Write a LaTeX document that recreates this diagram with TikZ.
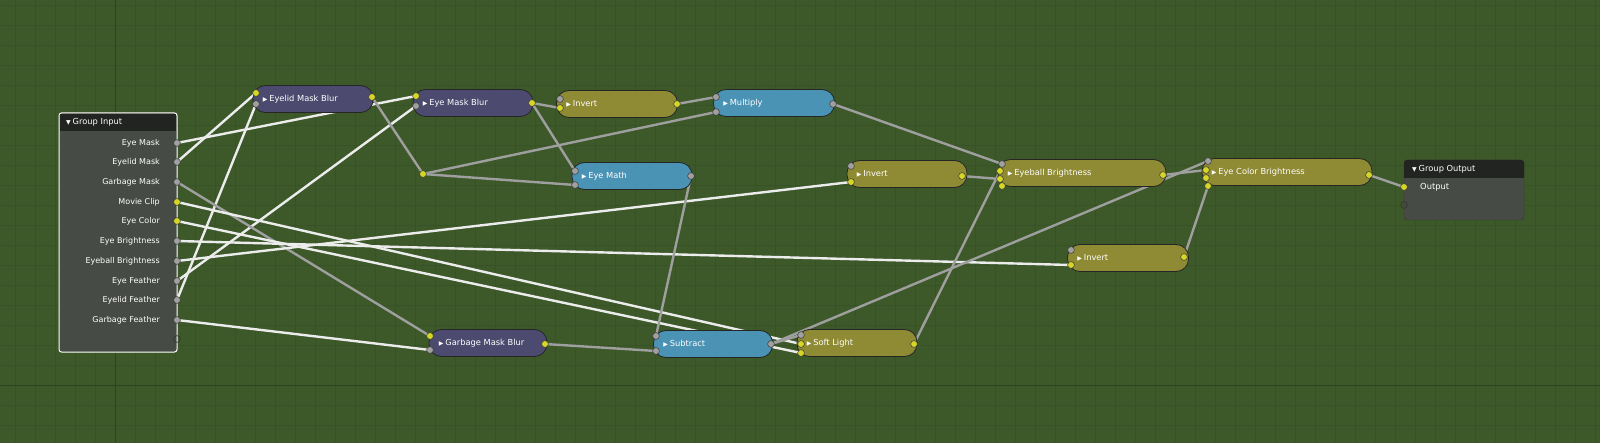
\documentclass[tikz,border=0pt]{standalone}
\usepackage{fontspec}
\setmainfont{DejaVu Sans}
\definecolor{bg}{RGB}{61,89,42}
\definecolor{gridc}{RGB}{56,82,39}
\definecolor{gridm}{RGB}{45,66,30}
\definecolor{purp}{RGB}{76,74,110}
\definecolor{oliv}{RGB}{143,138,52}
\definecolor{blu}{RGB}{74,147,181}
\definecolor{gbody}{RGB}{71,75,69}
\definecolor{ghead}{RGB}{34,36,33}
\definecolor{sockY}{RGB}{214,214,40}
\definecolor{sockG}{RGB}{160,160,160}
\begin{document}
\begin{tikzpicture}[x=1pt,y=-1pt,
  pill/.style={draw=black!85,line width=0.8pt,rounded corners=12.5pt,minimum height=27pt,inner sep=0pt},
  lbl/.style={anchor=west,text=white!92,font=\fontsize{8.3}{9}\selectfont,inner sep=0pt},
  slbl/.style={anchor=east,text=white!92,font=\fontsize{8}{9}\selectfont,inner sep=0pt},
  lnk/.style={line width=2.4pt,draw=gray!75!white},
  wlnk/.style={line width=2.4pt,draw=white!85!gray},
  ys/.style={fill=sockY,draw=black!80,line width=0.5pt},
  gs/.style={fill=sockG,draw=black!80,line width=0.5pt}]
\useasboundingbox (0,0) rectangle (1600,443);
\fill[bg] (0,0) rectangle (1600,443);
\foreach \i in {0,20,...,1580} \draw[line width=0.4pt,gridc] (\i+15,0) -- (\i+15,443);
\foreach \j in {5,25,...,443} \draw[line width=0.4pt,gridc] (0,\j) -- (1600,\j);
\draw[line width=0.9pt,gridm] (115,0) -- (115,443);
\draw[line width=0.9pt,gridm] (0,385) -- (1600,385);

% socket coordinates
\foreach \n/\y in {gEM/143,gELM/162,gGM/182,gMC/202,gEC/221,gEB/241,gEBB/261,gEF/281,gELF/300,gGF/320,gX/339} \coordinate (\n) at (177,\y);
\coordinate (elbI1) at (256,93); \coordinate (elbI2) at (256,104); \coordinate (elbO) at (372,97);
\coordinate (embI1) at (416,96); \coordinate (embI2) at (416,106); \coordinate (embO) at (532,103);
\coordinate (inv1I1) at (560,99); \coordinate (inv1I2) at (560,108); \coordinate (inv1O) at (677,104);
\coordinate (mulI1) at (716,97); \coordinate (mulI2) at (716,112); \coordinate (mulO) at (833,104);
\coordinate (rr) at (423,174);
\coordinate (emI1) at (575,171); \coordinate (emI2) at (575,185); \coordinate (emO) at (691,176);
\coordinate (inv2I1) at (851,166); \coordinate (inv2I2) at (851,182); \coordinate (inv2O) at (962,176);
\coordinate (ebI0) at (1002,164); \coordinate (ebI1) at (1000,171); \coordinate (ebI2) at (1000,179); \coordinate (ebI3) at (1002,186); \coordinate (ebO) at (1163,175);
\coordinate (ecbI0) at (1208,161); \coordinate (ecbI1) at (1206,170); \coordinate (ecbI2) at (1206,178); \coordinate (ecbI3) at (1208,186); \coordinate (ecbO) at (1369,175);
\coordinate (inv3I1) at (1071,250); \coordinate (inv3I2) at (1071,265); \coordinate (inv3O) at (1184,257);
\coordinate (gmbI1) at (430,336); \coordinate (gmbI2) at (430,350); \coordinate (gmbO) at (545,344);
\coordinate (subI1) at (656,336); \coordinate (subI2) at (656,351); \coordinate (subO) at (771,344);
\coordinate (slI0) at (801,335); \coordinate (slI1) at (801,344); \coordinate (slI2) at (801,353); \coordinate (slO) at (914,344);
\coordinate (goI) at (1404,187); \coordinate (goX) at (1404,205);

% links
\draw[wlnk] (gEM) -- (embI1);
\draw[wlnk] (gELM) -- (elbI1);
\draw[wlnk] (gELF) -- (elbI2);
\draw[wlnk] (gEF) -- (embI2);
\draw[lnk] (gGM) -- (gmbI1);
\draw[wlnk] (gGF) -- (gmbI2);
\draw[wlnk] (gMC) -- (slI1);
\draw[wlnk] (gEC) -- (slI2);
\draw[wlnk] (gEB) -- (inv3I2);
\draw[wlnk] (gEBB) -- (inv2I2);
\draw[lnk] (elbO) -- (rr);
\draw[lnk] (embO) -- (inv1I2);
\draw[lnk] (embO) -- (emI1);
\draw[lnk] (rr) -- (mulI2);
\draw[lnk] (rr) -- (emI2);
\draw[lnk] (inv1O) -- (mulI1);
\draw[lnk] (mulO) -- (ebI0);
\draw[lnk] (emO) -- (subI1);
\draw[lnk] (gmbO) -- (subI2);
\draw[lnk] (subO) -- (slI0);
\draw[lnk] (subO) -- (ecbI0);
\draw[lnk] (slO) -- (ebI1);
\draw[lnk] (inv2O) -- (ebI2);
\draw[lnk] (ebO) -- (ecbI1);
\draw[lnk] (inv3O) -- (ecbI3);
\draw[lnk] (ecbO) -- (goI);

% group input
\node[draw=white!85,line width=1pt,rounded corners=2.5pt,fill=gbody,minimum width=118pt,minimum height=239pt,inner sep=0pt] (gin) at (118,232.5) {};
\fill[ghead] (60,114) rectangle (176,131);
\node[lbl] (ginT) at (66,122) {\fontsize{6}{6}\selectfont▼\ \fontsize{8.3}{9}\selectfont Group Input};
\foreach \n/\t in {gEM/Eye Mask,gELM/Eyelid Mask,gGM/Garbage Mask,gMC/Movie Clip,gEC/Eye Color,gEB/Eye Brightness,gEBB/Eyeball Brightness,gEF/Eye Feather,gELF/Eyelid Feather,gGF/Garbage Feather}
  \node[slbl] (l\n) at ([xshift=-17pt]\n) {\t};

% group output
\node[draw=black!80,rounded corners=3pt,fill=gbody,minimum width=120pt,minimum height=60pt,inner sep=0pt] (gout) at (1464,190) {};
\fill[ghead,rounded corners=3pt] (1404,160) rectangle (1524,178);
\fill[ghead] (1404,172) rectangle (1524,178);
\node[lbl] (goutT) at (1412,169) {\fontsize{6}{6}\selectfont▼\ \fontsize{8.3}{9}\selectfont Group Output};
\node[lbl] (goutL) at (1420,187) {Output};

% pill nodes
\foreach \n/\cx/\cy/\w/\col/\t in {
  elb/313/99/120/purp/Eyelid Mask Blur,
  emb/473/103/120/purp/Eye Mask Blur,
  inv1/617/104/121/oliv/Invert,
  mul/774/103/121/blu/Multiply,
  em/632/176/120/blu/Eye Math,
  inv2/907/174/120/oliv/Invert,
  eb/1082/173/168/oliv/Eyeball Brightness,
  ecb/1287/172/170/oliv/Eye Color Brightness,
  inv3/1128/258/121/oliv/Invert,
  gmb/488/343/118/purp/Garbage Mask Blur,
  sub/713/344/119/blu/Subtract,
  sl/857/343/120/oliv/Soft Light}
{
  \node[pill,fill=\col,minimum width=\w pt] (\n) at (\cx,\cy) {};
  \node[lbl] (\n T) at ([xshift=10pt]\n.west) {\fontsize{6}{6}\selectfont▶\ \fontsize{8.3}{9}\selectfont\t};
}

% sockets
\foreach \c in {gMC,gEC,elbI1,elbO,embI1,embO,inv1I2,inv1O,rr,ebI1,ebI2,ebI3,ebO,ecbI1,ecbI2,ecbI3,ecbO,inv2I2,inv2O,inv3I2,inv3O,gmbI1,gmbO,slI1,slI2,slO,goI}
  \filldraw[ys] (\c) circle (3.4pt);
\foreach \c in {gEM,gELM,gGM,gEB,gEBB,gEF,gELF,gGF,elbI2,embI2,inv1I1,mulI1,mulI2,mulO,emI1,emI2,emO,inv2I1,ebI0,ecbI0,inv3I1,gmbI2,subI1,subI2,subO,slI0}
  \filldraw[gs] (\c) circle (3.4pt);
\draw[black!80,line width=0.6pt] (gX) circle (3.4pt);
\draw[black!80,line width=0.6pt] (goX) circle (3.4pt);
\end{tikzpicture}
\end{document}
